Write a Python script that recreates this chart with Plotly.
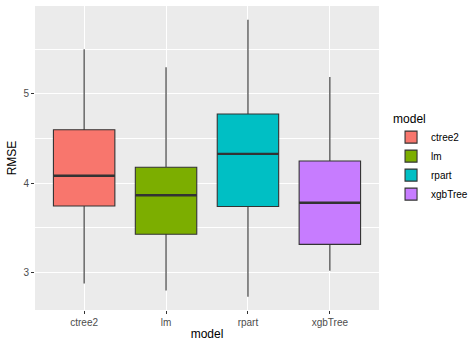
import plotly.graph_objects as go

models = ["ctree2", "lm", "rpart", "xgbTree"]
lower = [2.88, 2.80, 2.73, 3.02]
q1 = [3.746, 3.43, 3.74, 3.317]
median = [4.085, 3.866, 4.33, 3.783]
q3 = [4.60, 4.18, 4.776, 4.25]
upper = [5.50, 5.30, 5.83, 5.19]
colors = ["#F8766D", "#7CAE00", "#00BFC4", "#C77CFF"]

box_w = 0.75
fig = go.Figure()
for i, m in enumerate(models):
    fig.add_trace(go.Box(
        x=[i], lowerfence=[lower[i]], q1=[q1[i]], median=[median[i]],
        q3=[q3[i]], upperfence=[upper[i]], name=m, width=box_w,
        fillcolor=colors[i], line=dict(color="#333333", width=1.1),
        whiskerwidth=0, boxpoints=False, hoverinfo="skip",
    ))
for i, m in enumerate(models):
    fig.add_trace(go.Scatter(
        x=[i - box_w / 2, i + box_w / 2], y=[median[i], median[i]],
        mode="lines", line=dict(color="#333333", width=2.4),
        showlegend=False, hoverinfo="skip",
    ))

fig.update_layout(
    width=474, height=349,
    margin=dict(l=35, r=95, t=6, b=39, autoexpand=False),
    paper_bgcolor="white", plot_bgcolor="#EBEBEB",
    font=dict(family="Liberation Sans, Arial, sans-serif", color="#000000"),
    boxmode="overlay",
    showlegend=True,
    legend=dict(
        title=dict(text="model", font=dict(size=12, color="#000000")),
        font=dict(size=10, color="#000000"),
        x=1.035, xanchor="left", y=0.5, yanchor="middle",
        bgcolor="rgba(0,0,0,0)", tracegroupgap=2,
    ),
    xaxis=dict(
        range=[-0.6, 3.6], tickvals=list(range(len(models))), ticktext=models,
        showgrid=True, gridcolor="white", gridwidth=1.1, zeroline=False,
        ticks="outside", ticklen=3, tickcolor="#333333", tickwidth=1,
        tickfont=dict(size=10, color="#4D4D4D"),
        title=dict(text="model", font=dict(size=12, color="#000000"), standoff=2),
        showline=False,
    ),
    yaxis=dict(
        range=[2.582, 5.985], tickvals=[3, 4, 5],
        showgrid=True, gridcolor="white", gridwidth=1.1, zeroline=False,
        ticks="outside", ticklen=3, tickcolor="#333333", tickwidth=1,
        tickfont=dict(size=10, color="#4D4D4D"),
        title=dict(text="RMSE", font=dict(size=12, color="#000000"), standoff=4),
        minor=dict(tickvals=[2.5, 3.5, 4.5, 5.5], showgrid=True,
                   gridcolor="white", gridwidth=0.5, ticks=""),
        showline=False,
    ),
)

fig.write_html("out.html")
